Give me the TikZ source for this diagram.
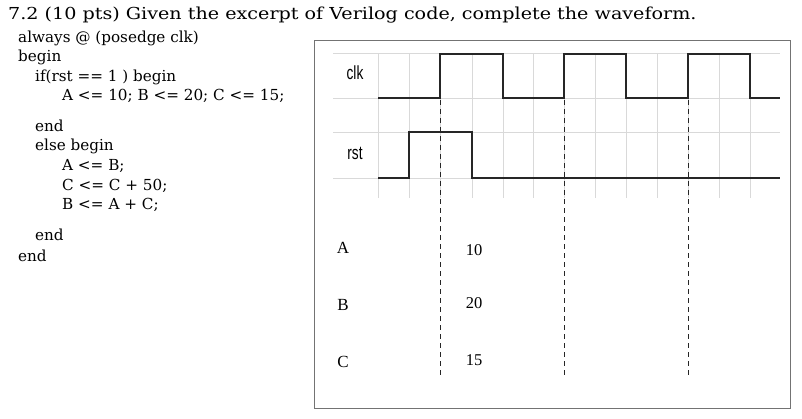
\documentclass[tikz,border=0pt]{standalone}
\usepackage{fontspec}
\setmainfont{Liberation Serif}
\newfontfamily\codef{DejaVu Serif}
\newfontfamily\titlef[FakeStretch=1.16]{DejaVu Serif}
\newfontfamily\arialf[FakeStretch=0.72]{Liberation Sans}
\begin{document}
\begin{tikzpicture}[x=1pt,y=-1pt,
  code/.style={anchor=west,inner sep=0pt,font=\codef\fontsize{15.2}{17}\selectfont},
  ttl/.style={anchor=west,inner sep=0pt,font=\titlef\fontsize{16.5}{18}\selectfont},
  lbl/.style={inner sep=0pt,font=\fontsize{17}{19}\selectfont},
  val/.style={inner sep=0pt,font=\fontsize{16.5}{18}\selectfont},
  sig/.style={inner sep=0pt,font=\arialf\fontsize{19}{21}\selectfont},
  grid/.style={draw=black!15,line width=0.8pt},
  wave/.style={draw=black!85,line width=2.4pt},
  dsh/.style={draw=black!85,dashed,dash pattern=on 5pt off 4pt,line width=0.9pt}]
\useasboundingbox (0,0) rectangle (802,418);
\node[ttl] (t0) at (8,15) {7.2 (10 pts) Given the excerpt of Verilog code, complete the waveform.};
\node[code] (t1) at (18,38) {always @ (posedge clk)};
\node[code] (t2) at (18,57) {begin};
\node[code] (t3) at (35,77) {if(rst == 1 ) begin};
\node[code] (t4) at (62,96) {A <= 10; B <= 20; C <= 15;};
\node[code] (t5) at (35,126) {end};
\node[code] (t6) at (35,146) {else begin};
\node[code] (t7) at (62,166) {A <= B;};
\node[code] (t8) at (62,186) {C <= C + 50;};
\node[code] (t9) at (62,205) {B <= A + C;};
\node[code] (t10) at (35,235) {end};
\node[code] (t11) at (18,256) {end};
\draw[black!55,line width=1pt] (314,40) rectangle (790,408);
\foreach \x in {378,409,440,472,503,533,564,595,626,657,688,719,750} \draw[grid] (\x,53) -- (\x,198);
\foreach \y in {53,98,132,178} \draw[grid] (333,\y) -- (780,\y);
\node[sig] (clk) at (355,73) {clk};
\node[sig] (rst) at (355,153) {rst};
\draw[wave] (378,98) -- (440,98) -- (440,54) -- (503,54) -- (503,98) -- (564,98) -- (564,54) -- (626,54) -- (626,98) -- (688,98) -- (688,54) -- (750,54) -- (750,98) -- (780,98);
\draw[wave] (378,178) -- (409,178) -- (409,132) -- (472,132) -- (472,178) -- (780,178);
\foreach \x in {440,564,688} \draw[dsh] (\x,100) -- (\x,378);
\node[lbl] (A) at (343,248) {A};
\node[lbl] (B) at (343,305) {B};
\node[lbl] (C) at (343,362) {C};
\node[val] (vA) at (474,250) {10};
\node[val] (vB) at (474,303) {20};
\node[val] (vC) at (474,360) {15};
\end{tikzpicture}
\end{document}
